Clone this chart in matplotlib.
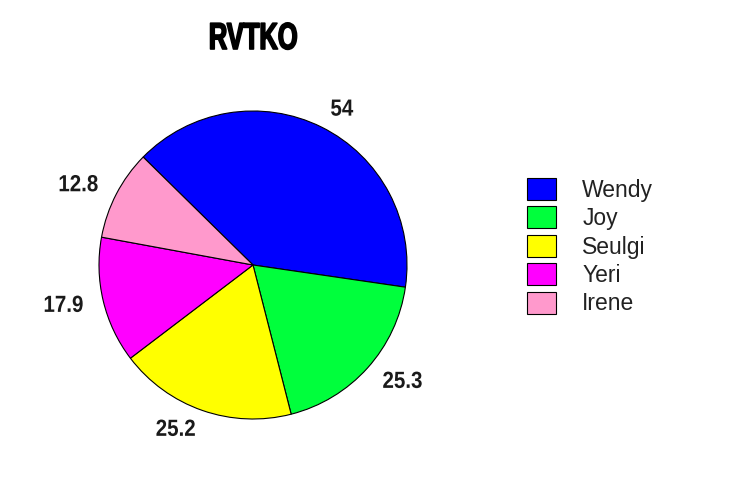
import matplotlib
matplotlib.use("Agg")
import matplotlib.pyplot as plt
from matplotlib.patches import Patch
from matplotlib import font_manager
from matplotlib.font_manager import FontProperties
from matplotlib.patheffects import AbstractPathEffect
from matplotlib.transforms import Affine2D

names = ["Wendy", "Joy", "Seulgi", "Yeri", "Irene"]
values = [54, 25.3, 25.2, 17.9, 12.8]
colors = ["#0000FF", "#00FF3C", "#FFFF00", "#FF00FF", "#FF99CC"]
title = "RVTKO"

avail = {f.name for f in font_manager.fontManager.ttflist}
regular = "Liberation Sans" if "Liberation Sans" in avail else "DejaVu Sans"


class XScale(AbstractPathEffect):
    """Horizontally compress the glyph outlines (condensed look)."""

    def __init__(self, sx, anchor="center", stroke=0.0):
        super().__init__()
        self.sx = sx
        self.anchor = anchor
        self.stroke = stroke

    def draw_path(self, renderer, gc, tpath, affine, rgbFace=None):
        ext = affine.transform_path(tpath).get_extents()
        if self.anchor == "left":
            x0 = ext.x0
        elif self.anchor == "right":
            x0 = ext.x1
        else:
            x0 = 0.5 * (ext.x0 + ext.x1)
        aff = affine + Affine2D().translate(-x0, 0).scale(self.sx, 1).translate(x0, 0)
        gc0 = renderer.new_gc()
        gc0.copy_properties(gc)
        if self.stroke > 0:
            gc0.set_linewidth(self.stroke)
            gc0.set_foreground(rgbFace)
        renderer.draw_path(gc0, tpath, aff, rgbFace)
        gc0.restore()


W, H = 755, 479
cx, cy, r = 253, H - 265, 154
fig = plt.figure(figsize=(W / 100, H / 100), dpi=100)
ax = fig.add_axes([0, 0, 1, 1])

wedges, texts = ax.pie(
    values, labels=[f"{v:g}" for v in values], colors=colors,
    startangle=135.5, counterclock=False, radius=r,
    labeldistance=1.13,
    wedgeprops=dict(edgecolor="black", linewidth=0.8),
)
for t in texts:
    t.set_fontproperties(FontProperties(family=regular, weight="bold", size=16.8))
    t.set_color("#1a1a1a")
    t.set_path_effects([XScale(0.88, anchor=t.get_ha())])
ax.set_xlim(-cx, W - cx)
ax.set_ylim(-cy, H - cy)
ax.set_aspect("equal")
ax.axis("off")

tt = fig.text(253 / W, 1 - 39 / H, title, ha="center", va="center",
              fontproperties=FontProperties(family=regular, weight="bold", size=27),
              color="#000000")
tt.set_path_effects([XScale(0.68, anchor="center", stroke=1.2)])

handles = [Patch(facecolor=c, edgecolor="black", linewidth=0.8) for c in colors]
leg = ax.legend(handles, names, loc="upper left",
                bbox_to_anchor=(527 / W, 1 - 178 / H), bbox_transform=fig.transFigure,
                frameon=False, borderpad=0, borderaxespad=0,
                prop=dict(family=regular, size=16.5),
                handlelength=1.26, handleheight=1.1, labelspacing=0.2,
                handletextpad=1.15)
for t in leg.get_texts():
    t.set_color("#222222")

fig.savefig("out.png", dpi=100)
